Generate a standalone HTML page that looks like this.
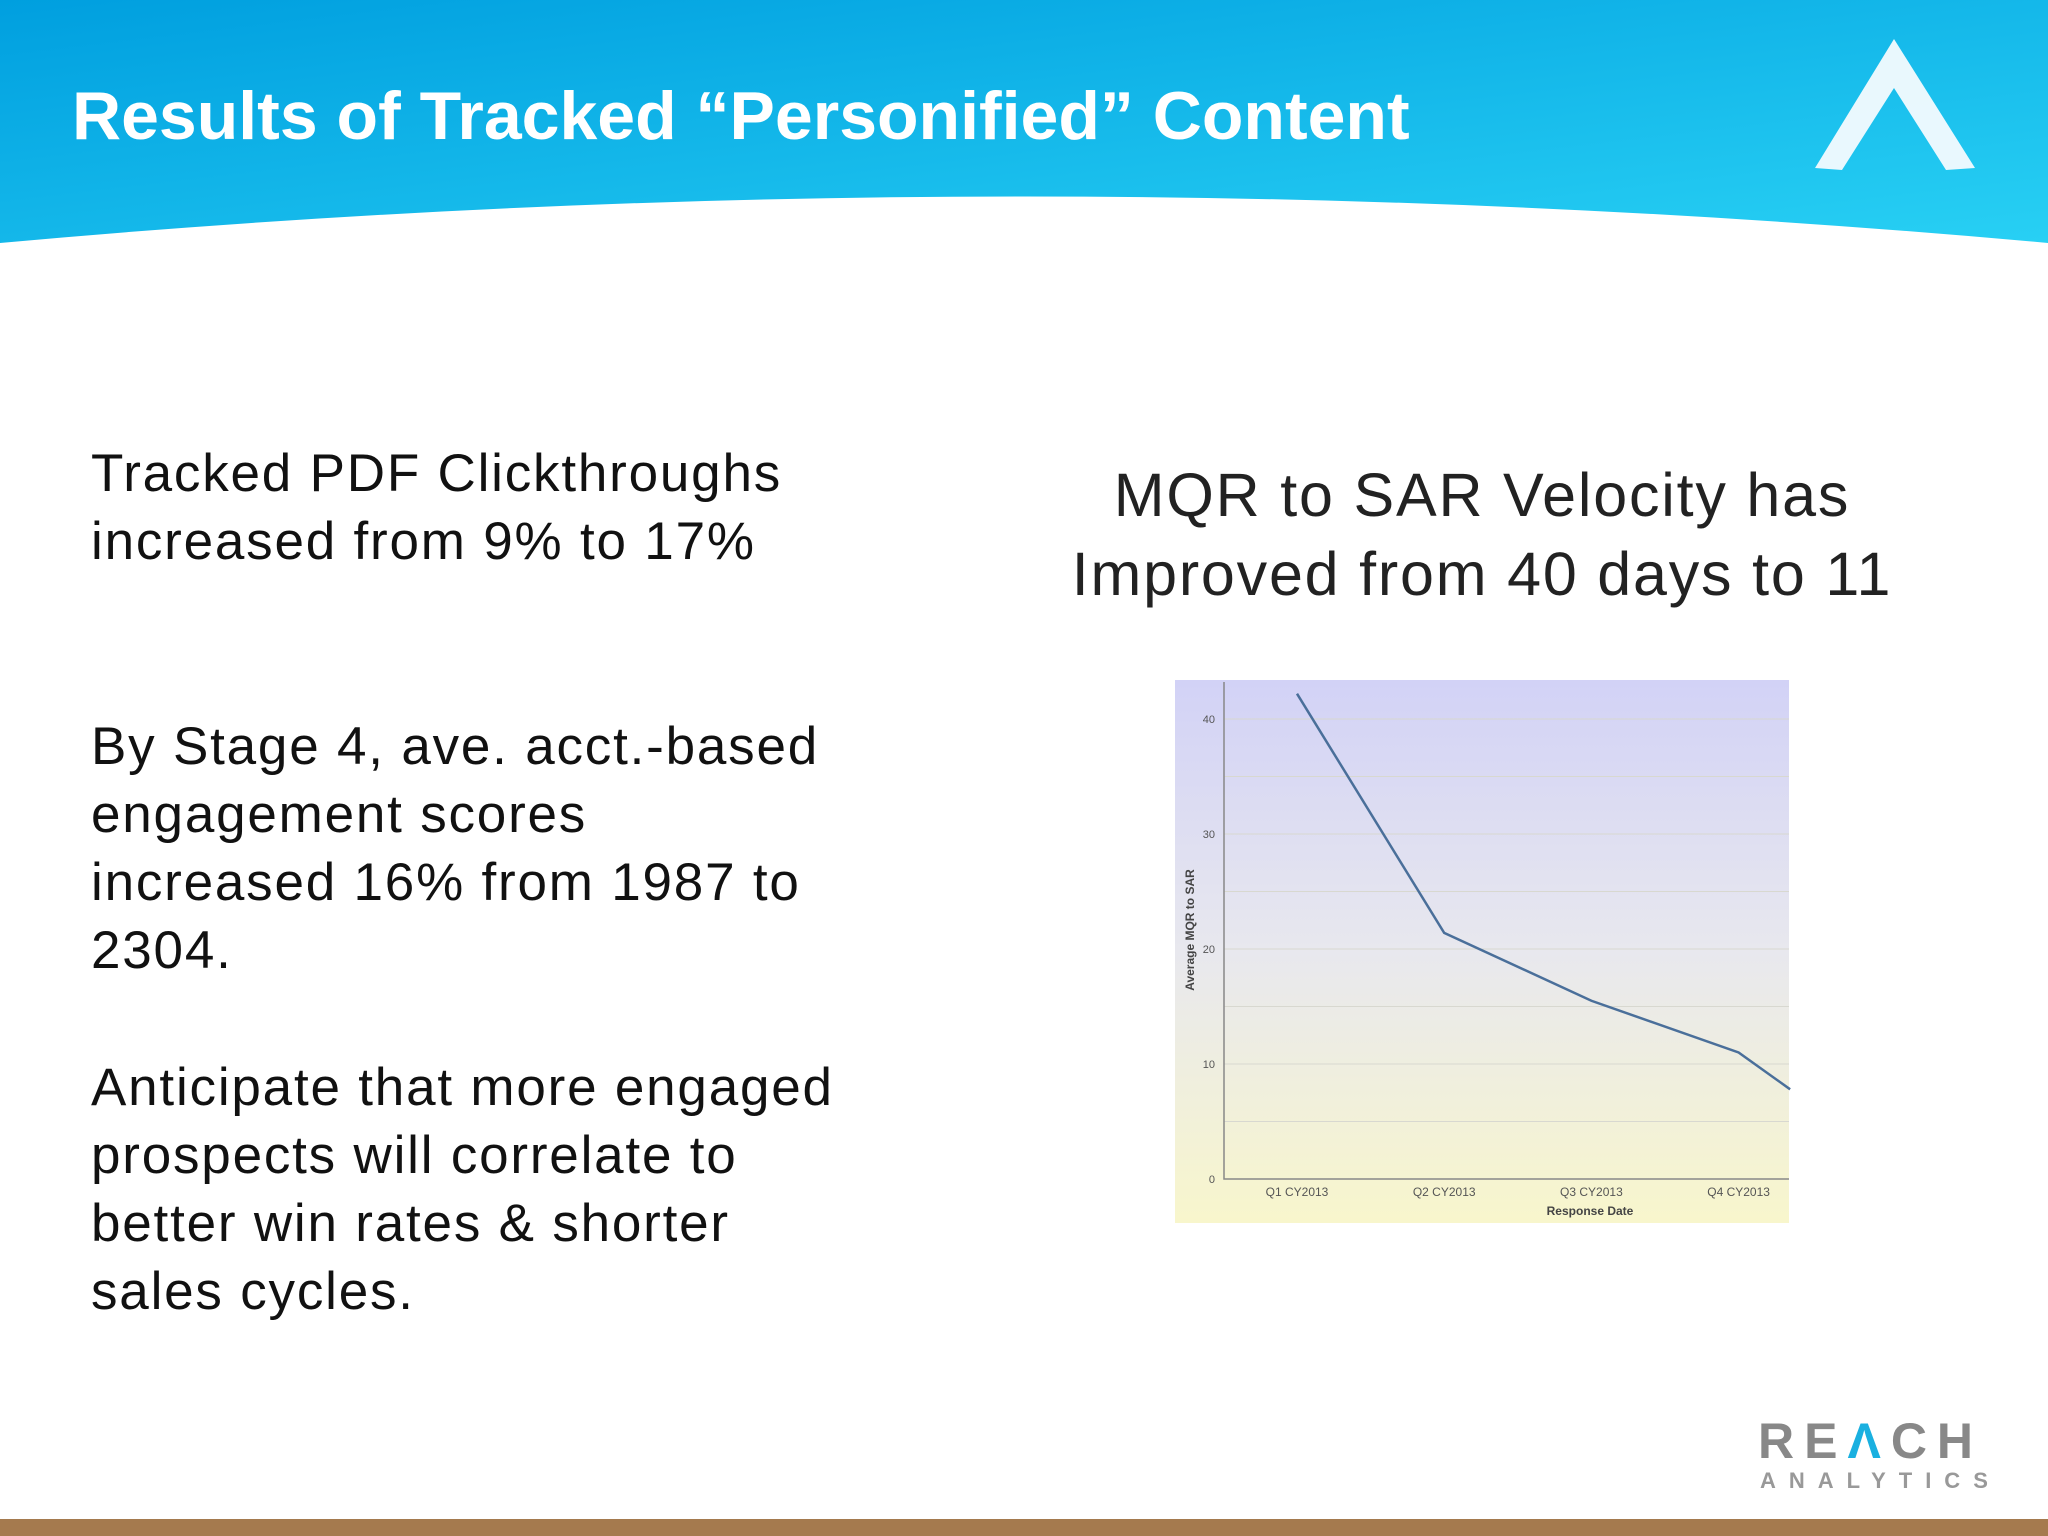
<!DOCTYPE html>
<html><head><meta charset="utf-8">
<style>
body{margin:0;width:2048px;height:1536px;overflow:hidden;background:#fff;font-family:"Liberation Sans",sans-serif;position:relative}
.t{position:absolute;color:#111;font-size:53px;letter-spacing:1.8px;line-height:68px;left:91px;margin:0}
</style></head><body>
<svg width="2048" height="260" style="position:absolute;left:0;top:0">
<defs><linearGradient id="hg" x1="0" y1="0" x2="1" y2="1"><stop offset="0" stop-color="#009fdf"/><stop offset="1" stop-color="#28d0f4"/></linearGradient></defs>
<path d="M0 0H2048V243Q1024 150 0 243Z" fill="url(#hg)"/>
<polygon points="1894,39 1975,168 1946,170 1894,88 1842,170 1815,168" fill="#f4fbfe" opacity="0.95"/>
</svg>
<div style="position:absolute;left:72px;top:76px;color:#fff;font-weight:bold;font-size:68px;line-height:80px">Results of Tracked “Personified” Content</div>
<p class="t" style="top:440px">Tracked PDF Clickthroughs<br>increased from 9% to 17%</p>
<p class="t" style="top:713px">By Stage 4, ave. acct.-based<br>engagement scores<br>increased 16% from 1987 to<br>2304.</p>
<p class="t" style="top:1054px">Anticipate that more engaged<br>prospects will correlate to<br>better win rates &amp; shorter<br>sales cycles.</p>
<div style="position:absolute;left:1040px;width:884px;top:456px;text-align:center;font-size:61px;letter-spacing:1.8px;line-height:79px;color:#222">MQR to SAR Velocity has<br>Improved from 40 days to 11</div>
<svg id="chart" width="2048" height="1536" style="position:absolute;left:0;top:0"></svg>
<div style="position:absolute;left:1758px;top:1412px;font-size:50px;font-weight:bold;color:#888;letter-spacing:10px">RE<span style="color:#1ab0e0">Λ</span>CH</div>
<div style="position:absolute;left:1760px;top:1468px;font-size:22px;font-weight:bold;color:#999;letter-spacing:13px">ANALYTICS</div>
<div style="position:absolute;left:0;top:1519px;width:2048px;height:17px;background:#a57a4e"></div>
<script>
const categories=["Q1 CY2013","Q2 CY2013","Q3 CY2013","Q4 CY2013"];
const xs=[0,1,2,3,3.35];
const values=[42.2,21.4,15.5,11.0,7.8];
const yTicks=[0,10,20,30,40];
const ns="http://www.w3.org/2000/svg",svg=document.getElementById("chart");
const X=i=>1297+i*147.2, Y=v=>1179-v*11.5;
function mk(t,a,p){const e=document.createElementNS(ns,t);for(const k in a)e.setAttribute(k,a[k]);(p||svg).appendChild(e);return e;}
const d=mk("defs",{});const g=mk("linearGradient",{id:"cg",x1:0,y1:0,x2:0,y2:1},d);
mk("stop",{offset:0,"stop-color":"#d2d2f6"},g);mk("stop",{offset:0.5,"stop-color":"#e8e8ee"},g);mk("stop",{offset:1,"stop-color":"#f8f6cc"},g);
const bg=mk("rect",{x:1175,y:680,width:614,height:543,fill:"url(#cg)"});


for(let v=5;v<=40;v+=5){const l=mk("line",{x1:1224,x2:1789,y1:Y(v),y2:Y(v),stroke:"#d8d8d0","stroke-width":1});

}
const ax=mk("path",{d:`M1224 682V${Y(0)}H1789`,stroke:"#888",fill:"none","stroke-width":1.5});


yTicks.forEach(v=>{const t=mk("text",{x:1215,y:Y(v)+4,"font-size":11,fill:"#555","text-anchor":"end"});t.textContent=v;

});
categories.forEach((c,i)=>{const t=mk("text",{x:X(i),y:1196,"font-size":12,fill:"#555","text-anchor":"middle"});t.textContent=c;

});
const xt=mk("text",{x:1590,y:1215,"font-size":12,"font-weight":"bold",fill:"#444","text-anchor":"middle"});xt.textContent="Response Date";


const yt=mk("text",{x:0,y:0,"font-size":12,"font-weight":"bold",fill:"#444","text-anchor":"middle",transform:"translate(1194,930) rotate(-90)"});yt.textContent="Average MQR to SAR";


const ln=mk("polyline",{points:values.map((v,i)=>X(xs[i])+","+Y(v)).join(" "),fill:"none",stroke:"#4a6f9a","stroke-width":2.5});


</script>
</body></html>
